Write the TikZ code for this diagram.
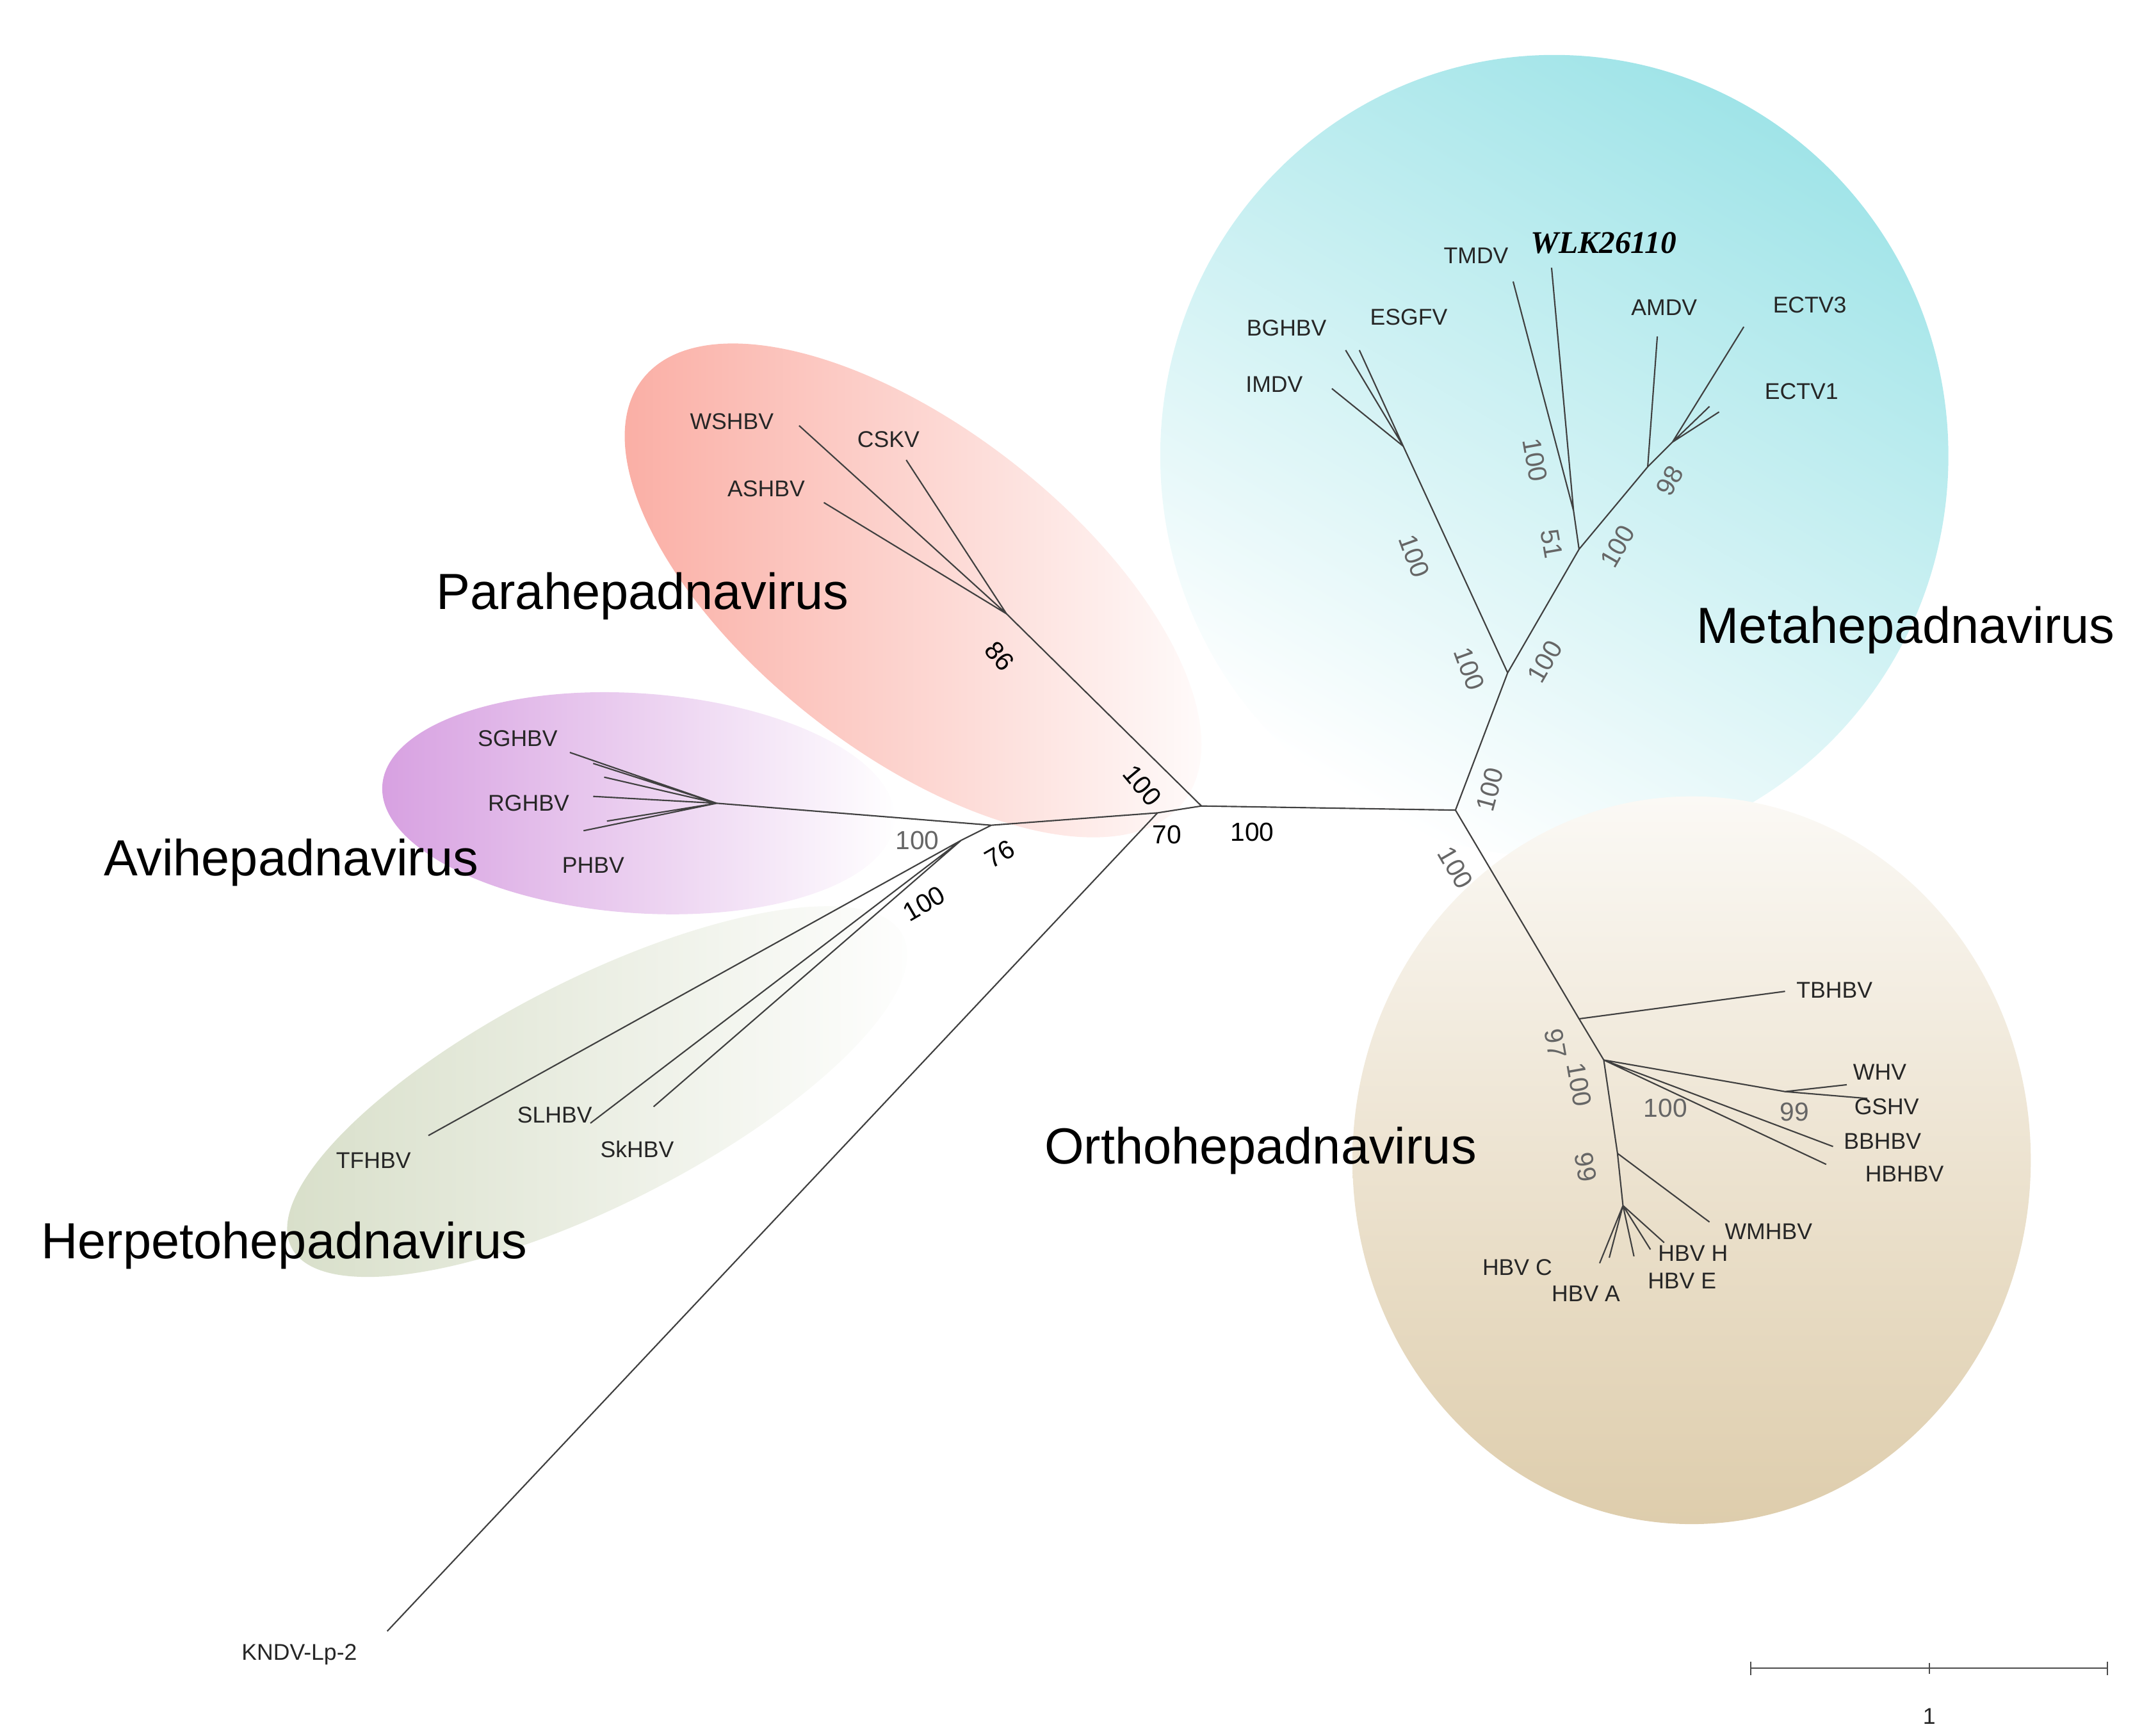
\documentclass[tikz,border=0pt]{standalone}
\usepackage{fontspec}
\setmainfont{Liberation Sans}
\newfontfamily\serifb{Liberation Serif}
\begin{document}
\begin{tikzpicture}[x=0.5pt,y=-0.5pt,
 br/.style={draw=black!75,line width=0.5pt},
 lab/.style={font=\fontsize{8.3}{10}\selectfont,text=black!85,inner sep=1pt},
 bs/.style={font=\fontsize{9.5}{11}\selectfont,inner sep=1pt},
 gs/.style={font=\fontsize{9.5}{11}\selectfont,inner sep=1pt,text=black!60},
 big/.style={font=\fontsize{18.5}{22}\selectfont,inner sep=0pt}]
\useasboundingbox (0,0) rectangle (1560,1264);
% clades
\definecolor{paraC}{RGB}{250,170,160}
\definecolor{aviC}{RGB}{215,160,225}
\definecolor{herC}{RGB}{215,222,200}
\definecolor{metC}{RGB}{160,228,232}
\definecolor{ortC}{RGB}{222,205,172}
\shade[left color=paraC,right color=white] [rotate around={-38:(665,430)}] (665,430) ellipse (250 and 118);
\shade[left color=aviC,right color=white] [rotate around={-4:(465,585)}] (465,585) ellipse (187 and 80);
\shade[left color=herC,right color=white] [rotate around={27:(435,795)}] (435,795) ellipse (250 and 82);
\shade[top color=metC,bottom color=white,shading angle=-30] (1132,332) ellipse (287 and 292);
\shade[top color=ortC!12,bottom color=ortC] (1232,845) ellipse (247 and 265);
% internal nodes
\coordinate (A) at (875,587); \coordinate (B) at (1060,590);
\coordinate (K) at (843,592); \coordinate (L) at (722,601);
\coordinate (P) at (733,447); \coordinate (V) at (522,585);
\coordinate (H) at (700,612);
\coordinate (M1) at (1098,490); \coordinate (MB) at (1022,325);
\coordinate (M2) at (1150,400); \coordinate (MT) at (1146,372);
\coordinate (M3) at (1200,340); \coordinate (ME) at (1218,322);
\coordinate (O1) at (1150,742); \coordinate (O2) at (1168,772);
\coordinate (OW) at (1300,795); \coordinate (O3) at (1178,840);
\coordinate (OH) at (1182,878);
% leaves
\coordinate (wsh) at (582,310); \coordinate (ash) at (600,366); \coordinate (csk) at (660,335);
\coordinate (knd) at (282,1188);
\coordinate (s1) at (415,548); \coordinate (s2) at (432,556); \coordinate (s3) at (440,566);
\coordinate (r1) at (432,580); \coordinate (p1) at (425,605); \coordinate (p2) at (442,598);
\coordinate (tf) at (312,827); \coordinate (sl) at (430,818); \coordinate (sk) at (476,806);
\coordinate (imd) at (970,283); \coordinate (bgh) at (980,255); \coordinate (esg) at (990,255);
\coordinate (tmd) at (1102,205); \coordinate (wlk) at (1130,195);
\coordinate (amd) at (1207,245); \coordinate (ec3) at (1270,238); \coordinate (ec1) at (1252,300);
\coordinate (ec2) at (1245,296);
\coordinate (tbh) at (1300,722);
\coordinate (whv) at (1345,790); \coordinate (gsh) at (1360,800); \coordinate (bbh) at (1335,835); \coordinate (hbh) at (1330,848);
\coordinate (wmh) at (1245,890);
\coordinate (h1) at (1165,920); \coordinate (h2) at (1172,916); \coordinate (h3) at (1190,915); \coordinate (h4) at (1202,910); \coordinate (h5) at (1212,905);
% branches
\draw[br] (A)--(B) (A)--(P) (A)--(K)--(L) (K)--(knd)
 (P)--(wsh) (P)--(ash) (P)--(csk)
 (L)--(V) (V)--(s1) (V)--(s2) (V)--(s3) (V)--(r1) (V)--(p1) (V)--(p2)
 (L)--(H) (H)--(tf) (H)--(sl) (H)--(sk)
 (B)--(M1) (M1)--(MB) (MB)--(imd) (MB)--(bgh) (MB)--(esg)
 (M1)--(M2) (M2)--(MT) (MT)--(tmd) (MT)--(wlk) (M2)--(M3) (M3)--(amd) (M3)--(ME) (ME)--(ec3) (ME)--(ec1) (ME)--(ec2)
 (B)--(O1) (O1)--(tbh) (O1)--(O2) (O2)--(OW) (OW)--(whv) (OW)--(gsh) (O2)--(bbh) (O2)--(hbh)
 (O2)--(O3) (O3)--(wmh) (O3)--(OH) (OH)--(h1) (OH)--(h2) (OH)--(h3) (OH)--(h4) (OH)--(h5);
% leaf labels
\node[lab] (l1) at (533,307) {WSHBV};
\node[lab] (l2) at (558,356) {ASHBV};
\node[lab] (l3) at (647,320) {CSKV};
\node[lab] (l4) at (218,1205) {KNDV-Lp-2};
\node[lab] (l5) at (377,538) {SGHBV};
\node[lab] (l6) at (385,585) {RGHBV};
\node[lab] (l7) at (432,630) {PHBV};
\node[lab] (l8) at (272,845) {TFHBV};
\node[lab] (l9) at (404,812) {SLHBV};
\node[lab] (l10) at (464,837) {SkHBV};
\node[lab] (l11) at (937,239) {BGHBV};
\node[lab] (l12) at (928,280) {IMDV};
\node[lab] (l13) at (1026,231) {ESGFV};
\node[lab] (l14) at (1075,186) {TMDV};
\node[inner sep=1pt,font=\serifb\bfseries\itshape\fontsize{11.5}{13}\selectfont] (l15) at (1168,177) {WLK26110};
\node[lab] (l16) at (1212,224) {AMDV};
\node[lab] (l17) at (1318,222) {ECTV3};
\node[lab] (l18) at (1312,285) {ECTV1};
\node[lab] (l19) at (1336,721) {TBHBV};
\node[lab] (l20) at (1369,781) {WHV};
\node[lab] (l21) at (1374,806) {GSHV};
\node[lab] (l22) at (1371,831) {BBHBV};
\node[lab] (l23) at (1387,855) {HBHBV};
\node[lab] (l24) at (1288,897) {WMHBV};
\node[lab] (l25) at (1105,923) {HBV C};
\node[lab] (l26) at (1155,942) {HBV A};
\node[lab] (l27) at (1233,913) {HBV H};
\node[lab] (l28) at (1225,933) {HBV E};
% support values
\node[bs,rotate=-50] (b1) at (832,572) {100};
\node[bs,rotate=-50] (b2) at (728,478) {86};
\node[bs] (b3) at (850,608) {70};
\node[bs] (b4) at (912,606) {100};
\node[gs] (b5) at (668,612) {100};
\node[bs,rotate=30] (b6) at (728,622) {76};
\node[bs,rotate=30] (b7) at (673,658) {100};
\node[gs,rotate=75] (b8) at (1085,575) {100};
\node[gs,rotate=-60] (b9) at (1060,632) {100};
\node[gs,rotate=-70] (b10) at (1070,487) {100};
\node[gs,rotate=-70] (b11) at (1030,405) {100};
\node[gs,rotate=60] (b12) at (1125,482) {100};
\node[gs,rotate=60] (b13) at (1178,398) {100};
\node[gs,rotate=-80] (b14) at (1130,396) {51};
\node[gs,rotate=-80] (b15) at (1118,335) {100};
\node[gs,rotate=60] (b16) at (1216,350) {98};
\node[gs,rotate=-80] (b17) at (1133,760) {97};
\node[gs,rotate=-80] (b18) at (1150,790) {100};
\node[gs] (b19) at (1213,807) {100};
\node[gs] (b20) at (1307,810) {99};
\node[gs,rotate=-80] (b21) at (1155,850) {99};
% clade names
\node[big] (c1) at (468,434) {Parahepadnavirus};
\node[big] (c2) at (212,628) {Avihepadnavirus};
\node[big] (c3) at (207,907) {Herpetohepadnavirus};
\node[big] (c4) at (1388,459) {Metahepadnavirus};
\node[big] (c5) at (918,838) {Orthohepadnavirus};
% scale bar
\coordinate (s0) at (1275,1215); \coordinate (sm) at (1405,1215); \coordinate (se) at (1535,1215);
\draw[black!70,line width=0.5pt] (s0)--(se) (s0)++(0,-5)--++(0,10) (sm)++(0,-4)--++(0,8) (se)++(0,-5)--++(0,10);
\node[lab] (sc) at (1405,1250) {1};
\end{tikzpicture}
\end{document}
